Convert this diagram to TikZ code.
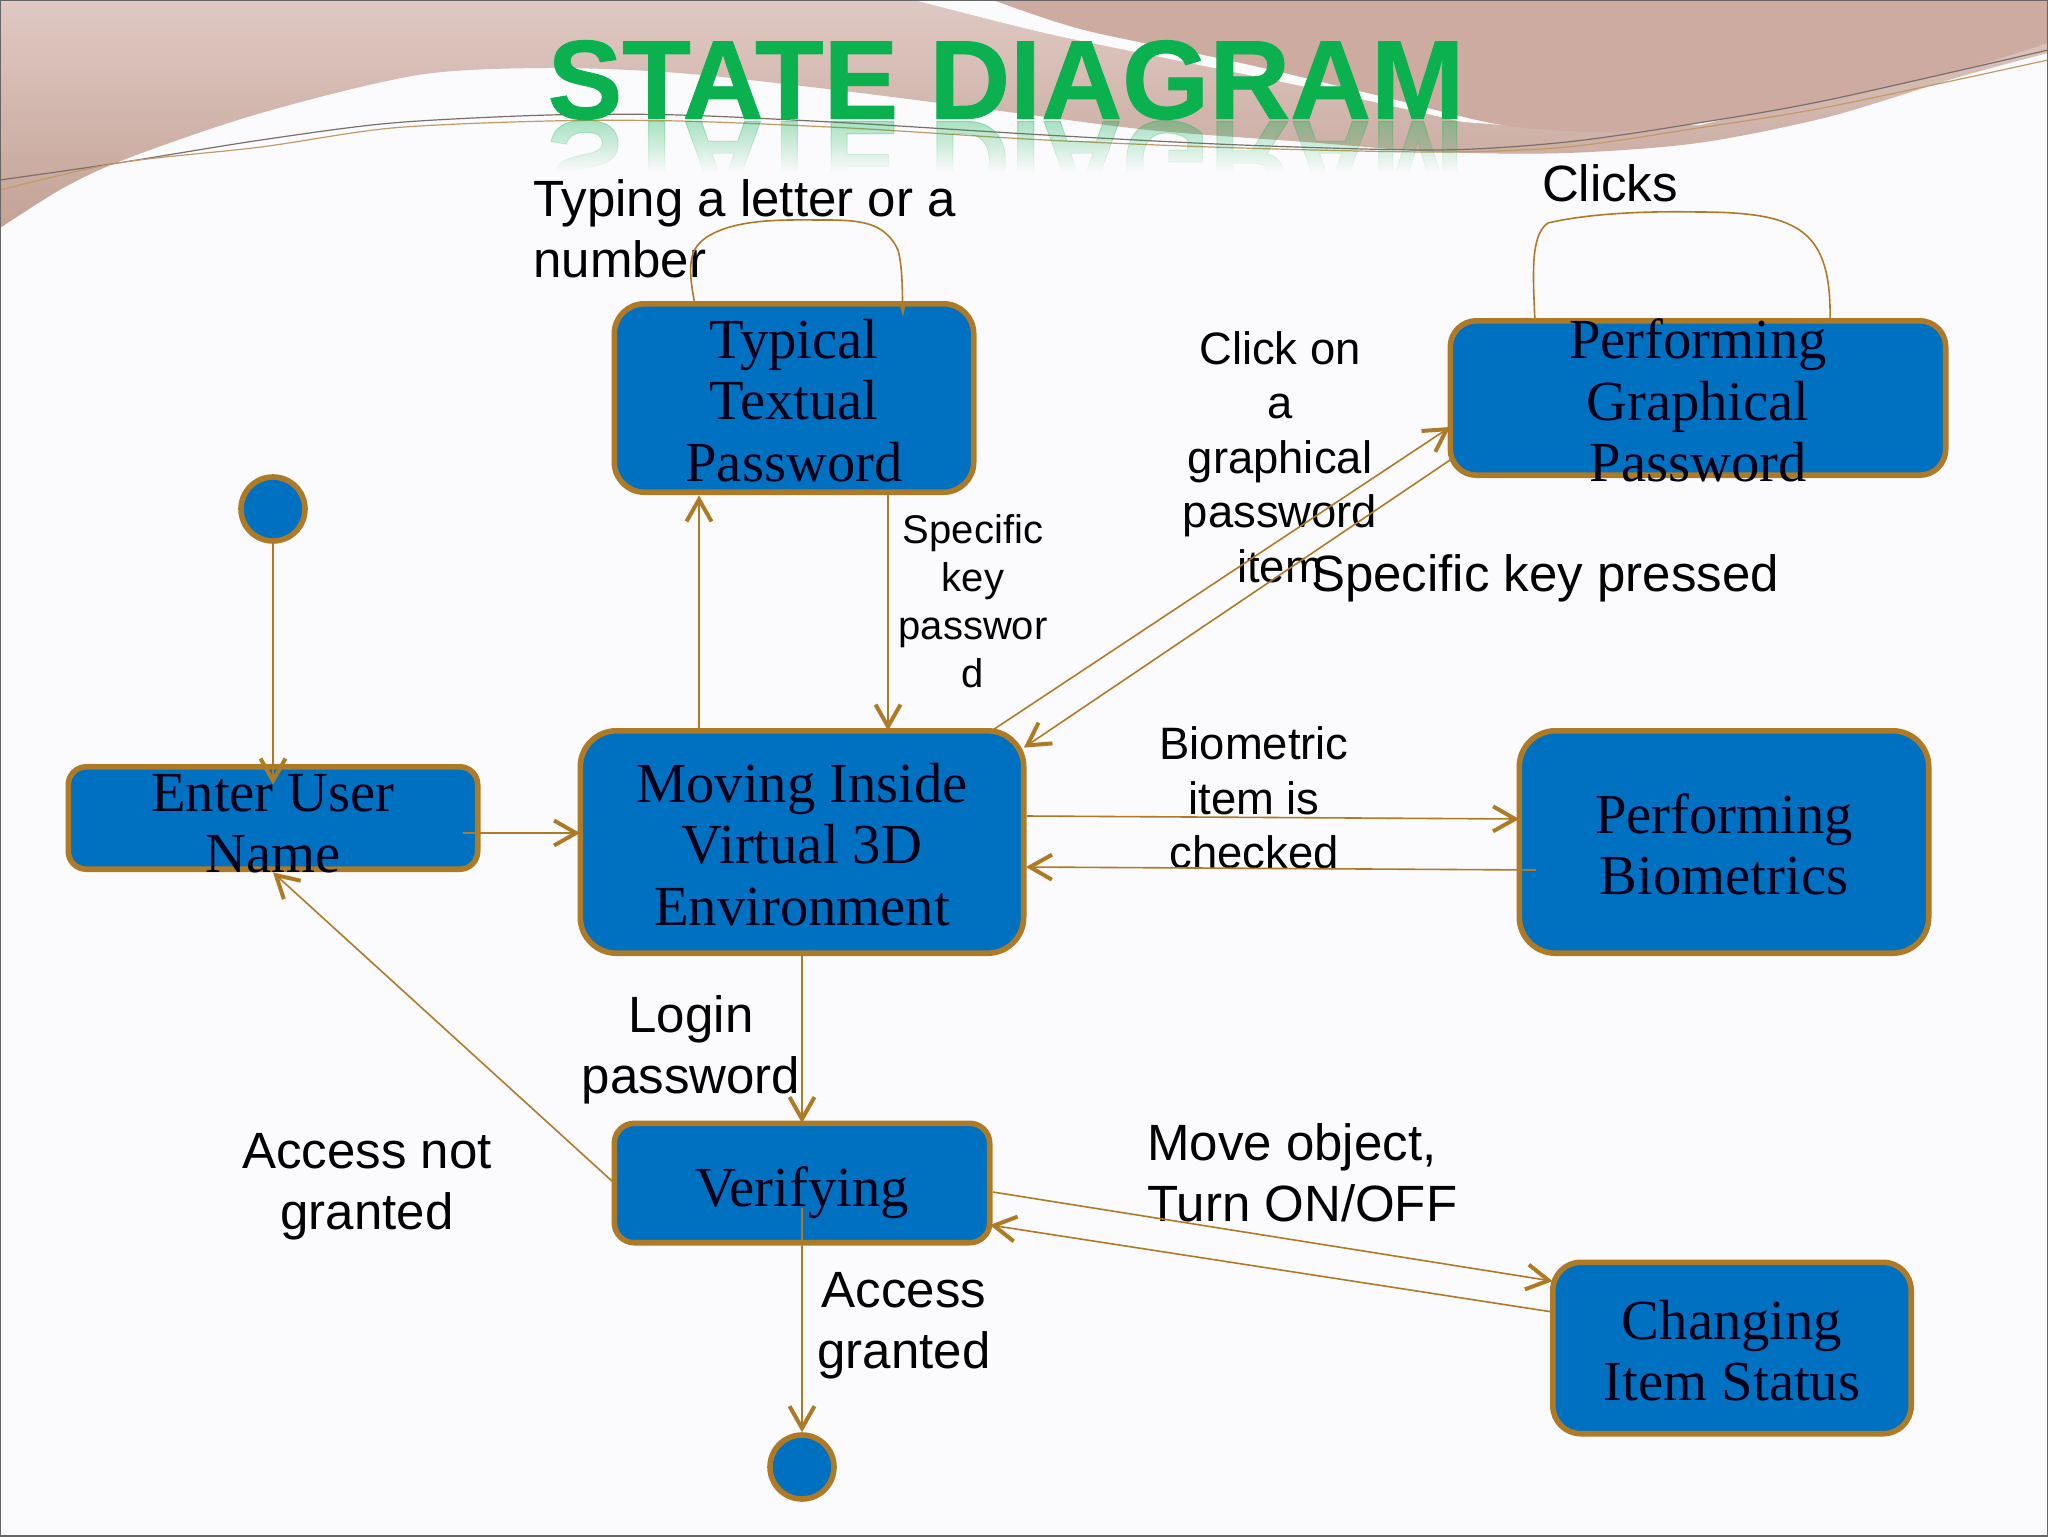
\documentclass[tikz,border=0pt]{standalone}
\usepackage{fontspec}
\setmainfont{Liberation Sans}
\newfontfamily\boxfont{Liberation Serif}
\newfontfamily\titlefont[BoldFeatures={FakeBold=0.8}]{Liberation Sans}
\usetikzlibrary{arrows.meta,calc,fadings}
\definecolor{stateblue}{HTML}{0070C0}
\definecolor{flowbrown}{HTML}{AF7A26}
\definecolor{titlegreen}{HTML}{0BB04F}
\definecolor{wavetop}{HTML}{DFC9C3}
\definecolor{wavelow}{HTML}{C4A296}
\definecolor{waveright}{HTML}{CDABA0}
\definecolor{paper}{HTML}{FBFBFD}
\tikzset{
  statebox/.style={draw=flowbrown,fill=stateblue,line width=2.8pt,outer sep=.1pt,inner sep=0pt},
  dot/.style={circle,draw=flowbrown,fill=stateblue,line width=2.8pt,minimum size=32pt,inner sep=0pt},
  boxtext/.style={align=center,yshift=-1.3pt,font=\boxfont\fontsize{28.3}{30.7}\selectfont,text=black!90!blue},
  biglabel/.style={align=center,font=\fontsize{25.5}{30.7}\selectfont},
  midlabel/.style={align=center,font=\fontsize{22.7}{27.2}\selectfont},
  smalllabel/.style={align=center,font=\fontsize{20}{24}\selectfont},
  titletext/.style={inner sep=0pt,font=\titlefont\bfseries\fontsize{56}{60}\selectfont},
  flow/.style={draw=flowbrown,line width=.8pt,-{_ Straight Barb[length=11pt,width=12.5pt,line width=2pt]}},
  loopline/.style={draw=flowbrown,line width=.8pt}
}
\begin{document}
\begin{tikzpicture}[x=.5pt,y=-.5pt]
    \useasboundingbox (0,0) rectangle (2048,1536);
    % backdrop
    \fill[paper] (0,0) rectangle (2048,1536);
    \shade[top color=wavetop,bottom color=wavelow] (0,0) -- (0,228) -- plot[smooth] coordinates {(0,228) (65,187) (131,157) (261,113) (418,75) (548,68) (679,73) (836,90) (993,110) (1149,130) (1306,142) (1437,152) (1567,153) (1698,143) (1828,117) (1959,77) (2048,53)} -- (2048,0) -- cycle;
    \fill[paper] (914,0) -- plot[smooth] coordinates {(914,0) (1045,33) (1175,60) (1306,87) (1463,122)} -- (1502,125) -- (1700,125) -- (2048,43) -- (2048,0) -- cycle;
    \fill[waveright] (993,0) -- plot[smooth] coordinates {(993,0) (1084,30) (1241,63) (1384,97) (1502,125) (1606,132) (1698,123) (1828,100) (1960,70) (2048,43)} -- (2048,0) -- cycle;
    \draw[black!45!wavetop,line width=.6pt] plot[smooth] coordinates {(0,180) (118,163) (261,140) (392,123) (549,115) (679,115) (849,123) (1045,135) (1241,145) (1437,150) (1567,142) (1698,123) (1828,100) (2048,50)};
    \draw[flowbrown!60!wavetop,line width=.6pt] plot[smooth] coordinates {(0,190) (118,163) (261,147) (392,128) (549,121) (679,121) (849,128) (1045,140) (1241,148) (1437,152) (1567,147) (1698,128) (1828,107) (2048,60)};
    \draw[black!70!wavetop,line width=1.5pt] (0,0) -- (2048,0);
    \draw[black!60,line width=1pt] (0,0) rectangle (2048,1536);
    % title
    \begin{scope}
        \path[scope fading=south] (540,120) rectangle (1470,172);
        \node[titletext,text=titlegreen,text opacity=.35,yscale=-1] (titleshade) at (1006,160) {STATE DIAGRAM};
    \end{scope}
    \node[titletext,text=titlegreen] (title) at (1006,80) {STATE DIAGRAM};
    % states
    \node[statebox,minimum width=179.7pt,minimum height=94.2pt,rounded corners=15pt,label={[boxtext]center:Typical\\Textual\\Password}] (typical) at (794,398) {};
    \node[statebox,minimum width=247.7pt,minimum height=77.2pt,rounded corners=13pt,label={[boxtext]center:Performing\\Graphical\\Password}] (graphical) at (1698,398) {};
    \node[statebox,minimum width=221.7pt,minimum height=111.2pt,rounded corners=18pt,label={[boxtext]center:Moving Inside\\Virtual 3D\\Environment}] (moving) at (802,842) {};
    \node[statebox,minimum width=204.7pt,minimum height=51.2pt,rounded corners=9pt,label={[boxtext,yshift=-1.7pt]center:Enter User\\Name}] (enter) at (273,818) {};
    \node[statebox,minimum width=204.7pt,minimum height=111.2pt,rounded corners=18pt,label={[boxtext]center:Performing\\Biometrics}] (biometrics) at (1724,842) {};
    \node[statebox,minimum width=187.7pt,minimum height=59.7pt,rounded corners=10pt,label={[boxtext,yshift=-3.3pt]center:Verifying}] (verifying) at (802,1183) {};
    \node[statebox,minimum width=179.2pt,minimum height=85.7pt,rounded corners=14pt,label={[boxtext]center:Changing\\Item Status}] (changing) at (1732,1348) {};
    \node[dot] (startdot) at (273,509) {};
    \node[dot] (enddot) at (802,1467) {};
    % labels
    \node[biglabel,align=left,anchor=west,inner sep=0pt] (typinglabel) at (533,229) {Typing a letter or a\\number};
    \node[biglabel] (clickslabel) at (1610,183) {Clicks};
    \node[midlabel] (clickonlabel) at (1280,457) {Click on\\a\\graphical\\password\\item};
    \node[biglabel] (keypressedlabel) at (1545,578) {Specific key pressed};
    \node[smalllabel] (keylabel) at (973,601) {Specific\\key\\passwor\\d};
    \node[midlabel] (checkedlabel) at (1254,798) {Biometric\\item is\\checked};
    \node[biglabel] (loginlabel) at (691,1050) {Login\\password};
    \node[biglabel] (notgrantedlabel) at (367,1187) {Access not\\granted};
    \node[biglabel] (grantedlabel) at (904,1326) {Access\\granted};
    \node[biglabel,align=left,anchor=west,inner sep=0pt] (movelabel) at (1147,1173) {Move object,\\Turn ON/OFF};
    % connectors
    \draw[flow] (startdot.south) -- ($(enter.north)+(0,18)$);
    \draw[flow] ($(enter.east)+(-15,15)$) -- ($(moving.west)+(0,-9)$);
    \draw[flow] ($(moving.north)+(-103,0)$) -- ($(typical.south)+(-95,3)$);
    \draw[flow] ($(typical.south)+(94,0)$) -- ($(moving.north)+(86,0)$);
    \draw[flow] ($(moving.north east)+(-32,0)$) -- ($(graphical.west)+(0,29)$);
    \draw[flow] ($(graphical.west)+(0,62)$) -- ($(moving.north east)+(0,17)$);
    \draw[flow] ($(moving.east)+(3,-26)$) -- ($(biometrics.west)+(0,-23)$);
    \draw[flow] ($(biometrics.west)+(17,28)$) -- ($(moving.east)+(2,25)$);
    \draw[flow] (moving.south) -- (verifying.north);
    \draw[flow] (verifying.west) -- ($(enter.south)+(0,3)$);
    \draw[flow] ($(verifying.south)+(0,-35)$) -- (enddot.north);
    \draw[flow] ($(verifying.east)+(3,9)$) -- ($(changing.north west)+(0,19)$);
    \draw[flow] ($(changing.west)+(0,-36)$) -- ($(verifying.east)+(0,42)$);
    % self loops
    \draw[loopline,-{Straight Barb[length=6pt,width=3pt,line width=.8pt]}] ($(typical.north)+(-99,1)$) .. controls (686,260) and (690,245) .. (714,233) .. controls (745,218) and (790,220) .. (825,220) .. controls (860,220) and (885,222) .. (898,250) .. controls (903,270) and (902,290) .. ($(typical.north)+(109,13)$);
    \draw[loopline] ($(graphical.north)+(-163,2)$) .. controls (1533,275) and (1530,235) .. (1548,223) .. controls (1590,213) and (1650,211) .. (1698,212) .. controls (1800,212) and (1832,230) .. ($(graphical.north)+(132,2)$);
\end{tikzpicture}
\end{document}
